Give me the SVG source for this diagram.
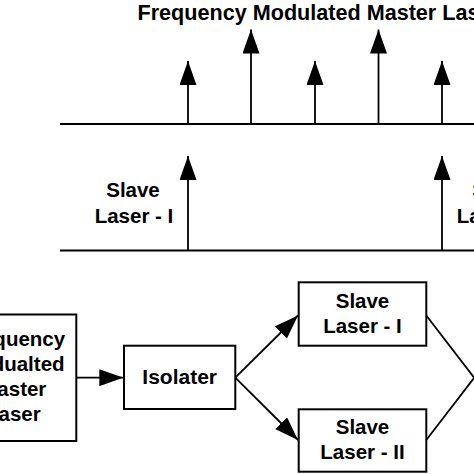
<svg xmlns="http://www.w3.org/2000/svg" width="474" height="474" viewBox="0 0 474 474">
<defs>
<style>
text{font-family:"Liberation Sans",Arial,sans-serif;font-weight:bold;font-size:20.5px;fill:#000;text-anchor:middle}
.box{fill:#fff;stroke:#000;stroke-width:2}
.ax{stroke:#000;stroke-width:2;fill:none}
.ln{stroke:#000;stroke-width:1.8;fill:none}
</style>
<marker id="ah" markerUnits="userSpaceOnUse" markerWidth="24" markerHeight="17" refX="24" refY="8.5" orient="auto" viewBox="0 0 24 17">
<path d="M0,0 L24,8.5 L0,17 Z" fill="#000"/>
</marker>
</defs>
<rect width="474" height="474" fill="#fff"/>
<g id="spectrum-master">
<text x="137.5" y="20" style="text-anchor:start;font-size:21.6px">Frequency Modulated Master Laser</text>
<line class="ax" x1="60" y1="124" x2="474" y2="124"/>
<line class="ln" x1="188" y1="124" x2="188" y2="61" marker-end="url(#ah)"/>
<line class="ln" x1="251" y1="124" x2="251" y2="29.5" marker-end="url(#ah)"/>
<line class="ln" x1="315" y1="124" x2="315" y2="61" marker-end="url(#ah)"/>
<line class="ln" x1="378.5" y1="124" x2="378.5" y2="29.5" marker-end="url(#ah)"/>
<line class="ln" x1="442" y1="124" x2="442" y2="61" marker-end="url(#ah)"/>
</g>
<g id="spectrum-slaves">
<line class="ax" x1="60" y1="250.5" x2="474" y2="250.5"/>
<line class="ln" x1="188" y1="250.5" x2="188" y2="156" marker-end="url(#ah)"/>
<line class="ln" x1="442" y1="250.5" x2="442" y2="156" marker-end="url(#ah)"/>
<text x="133" y="197">Slave</text>
<text x="134" y="222.5">Laser - I</text>
<text x="499" y="197">Slave</text>
<text x="499" y="222.5">Laser - II</text>
</g>
<g id="master">
<rect class="box" x="-50" y="314.5" width="126.3" height="126.5"/>
<text x="13.3" y="346">Frequency</text>
<text x="13.3" y="371">Modualted</text>
<text x="13.3" y="396">Master</text>
<text x="13.3" y="421">Laser</text>
</g>
<g id="isolater">
<rect class="box" x="124" y="345.7" width="111.3" height="63.3"/>
<text x="179.7" y="383.5" style="font-size:21px">Isolater</text>
</g>
<g id="slave1">
<rect class="box" x="298.7" y="282.3" width="127.6" height="63.4"/>
<text x="362.5" y="308.3">Slave</text>
<text x="362.5" y="333.3">Laser - I</text>
</g>
<g id="slave2">
<rect class="box" x="298.7" y="409.3" width="127.6" height="62.4"/>
<text x="362.5" y="434.3">Slave</text>
<text x="362.5" y="459.3">Laser - II</text>
</g>
<g id="connectors">
<line class="ln" x1="76.3" y1="377.7" x2="123.3" y2="377.7" marker-end="url(#ah)"/>
<line class="ln" x1="235.3" y1="377.7" x2="298" y2="315.5" marker-end="url(#ah)"/>
<line class="ln" x1="235.3" y1="377.7" x2="298" y2="440" marker-end="url(#ah)"/>
<line class="ln" x1="426.3" y1="315.5" x2="476" y2="380"/>
<line class="ln" x1="426.3" y1="440" x2="476" y2="375.5"/>
</g>
</svg>
